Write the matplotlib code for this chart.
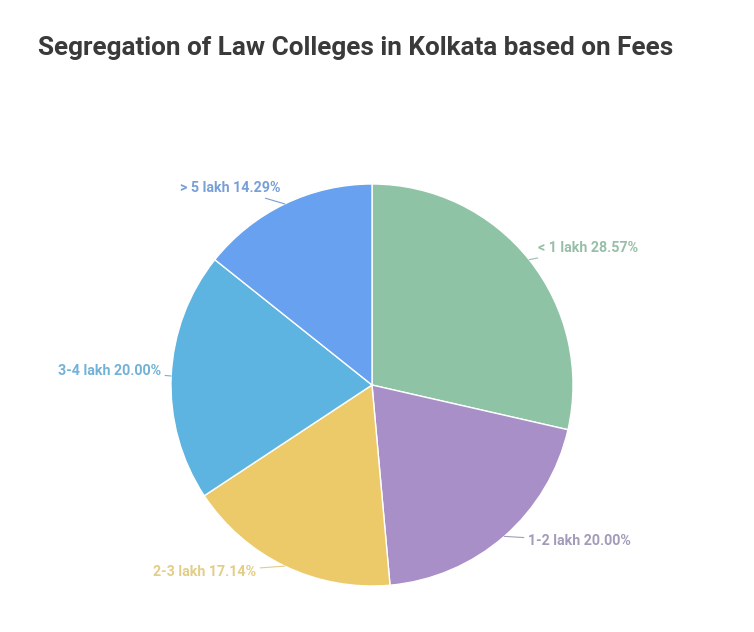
import numpy as np
import matplotlib.pyplot as plt

# Données
categories = ["< 1 lakh", "1-2 lakh", "2-3 lakh", "3-4 lakh", "> 5 lakh"]
nb_colleges = [10, 7, 6, 7, 5]
couleurs = ["#8fc3a6", "#a98fc8", "#ecca6a", "#5db4e0", "#67a1ef"]
couleurs_texte = ["#97bfa8", "#a39bb9", "#e3cd88", "#72b2d8", "#779fd8"]

# position des étiquettes (coordonnées de l'axe, rayon = 1)
pos_etiquettes = [(0.826, 0.682), (0.776, -0.776), (-0.577, -0.930),
                  (-1.050, 0.070), (-0.453, 0.980)]

fig = plt.figure(figsize=(7.54, 6.32), dpi=100)
fig.text(38 / 754, 1 - 48 / 632, "Segregation of Law Colleges in Kolkata based on Fees",
         fontsize=18.8, fontweight="bold", color="#3a3a3a", family="Roboto", va="center")

# axe centré sur le camembert
ax = fig.add_axes([171 / 754, 46 / 632, 402 / 754, 402 / 632])
wedges, _ = ax.pie(nb_colleges, colors=couleurs, startangle=90, counterclock=False,
                   radius=1, wedgeprops=dict(edgecolor="white", linewidth=1))
ax.set_xlim(-1, 1)
ax.set_ylim(-1, 1)
ax.set_aspect("equal")
ax.axis("off")

total = sum(nb_colleges)
for w, cat, n, c, (tx, ty) in zip(wedges, categories, nb_colleges, couleurs_texte, pos_etiquettes):
    ang = np.deg2rad((w.theta1 + w.theta2) / 2)
    x, y = np.cos(ang), np.sin(ang)
    ha = "left" if tx > 0 else "right"
    ax.annotate(f"{cat} {100 * n / total:.2f}%", xy=(x, y), xytext=(tx, ty),
                ha=ha, va="center", fontsize=10.3, fontweight="bold", color=c,
                family="Roboto", annotation_clip=False,
                arrowprops=dict(arrowstyle="-", color=c, lw=0.8, shrinkA=1, shrinkB=0))

fig.savefig("out.png", dpi=100, facecolor="white")
